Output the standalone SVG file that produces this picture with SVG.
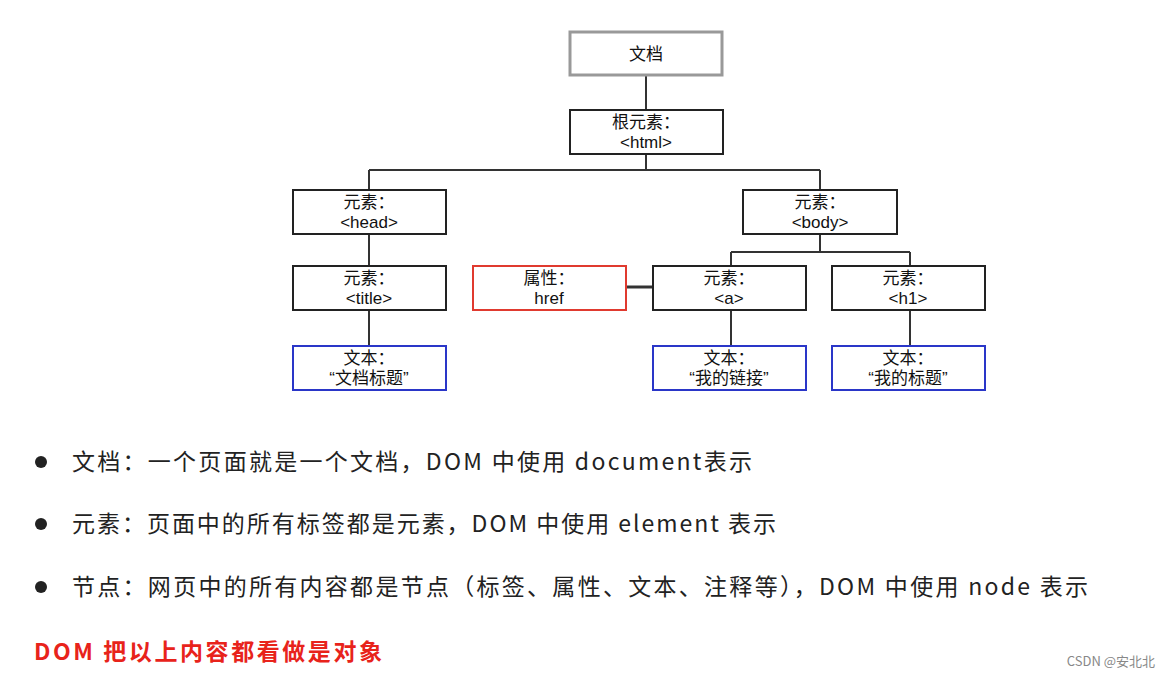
<svg xmlns="http://www.w3.org/2000/svg" width="1170" height="679" viewBox="0 0 1170 679">
<style>
.b{fill:#fff;stroke:#222;stroke-width:2}
.g{fill:#fff;stroke:#999;stroke-width:3}
.r{fill:#fff;stroke:#e03a2f;stroke-width:2}
.u{fill:#fff;stroke:#2a36c8;stroke-width:2}
.t{font-family:"Liberation Sans","Noto Sans CJK SC",sans-serif;font-size:17px;fill:#111;text-anchor:middle}
.c line{stroke:#333;stroke-width:2}
.p{font-family:"Noto Sans CJK SC","Liberation Sans",sans-serif;font-size:23px;fill:#222}
</style>
<rect width="1170" height="679" fill="#fff"/>
<g class="c">
<line x1="646" y1="75" x2="646" y2="110"/>
<line x1="646" y1="154" x2="646" y2="170"/>
<line x1="369" y1="170" x2="820" y2="170"/>
<line x1="369" y1="170" x2="369" y2="190"/>
<line x1="820" y1="170" x2="820" y2="190"/>
<line x1="369" y1="234" x2="369" y2="266"/>
<line x1="369" y1="310" x2="369" y2="346"/>
<line x1="820" y1="234" x2="820" y2="252"/>
<line x1="731" y1="252" x2="910" y2="252"/>
<line x1="731" y1="252" x2="731" y2="266"/>
<line x1="910" y1="252" x2="910" y2="266"/>
<line x1="626" y1="287" x2="653" y2="287" style="stroke-width:3"/>
<line x1="731" y1="310" x2="731" y2="346"/>
<line x1="910" y1="310" x2="910" y2="346"/>
</g>
<g id="doc"><rect class="g" x="570" y="32" width="152" height="43"/><text class="t" x="646" y="60">文档</text></g>
<g id="html"><rect class="b" x="570" y="110" width="153" height="44"/><text class="t" x="646" y="128">根元素：</text><text class="t" x="646" y="148">&lt;html&gt;</text></g>
<g id="head"><rect class="b" x="293" y="190" width="153" height="44"/><text class="t" x="369" y="208">元素：</text><text class="t" x="369" y="228">&lt;head&gt;</text></g>
<g id="body"><rect class="b" x="743" y="190" width="154" height="44"/><text class="t" x="820" y="208">元素：</text><text class="t" x="820" y="228">&lt;body&gt;</text></g>
<g id="title"><rect class="b" x="293" y="266" width="153" height="44"/><text class="t" x="369" y="284">元素：</text><text class="t" x="369" y="304">&lt;title&gt;</text></g>
<g id="href"><rect class="r" x="473" y="266" width="153" height="44"/><text class="t" x="549" y="284">属性：</text><text class="t" x="549" y="304">href</text></g>
<g id="a"><rect class="b" x="653" y="266" width="153" height="44"/><text class="t" x="729" y="284">元素：</text><text class="t" x="729" y="304">&lt;a&gt;</text></g>
<g id="h1"><rect class="b" x="832" y="266" width="153" height="44"/><text class="t" x="908" y="284">元素：</text><text class="t" x="908" y="304">&lt;h1&gt;</text></g>
<g id="t1"><rect class="u" x="293" y="346" width="153" height="44"/><text class="t" x="369" y="364">文本：</text><text class="t" x="369" y="384">“文档标题”</text></g>
<g id="t2"><rect class="u" x="653" y="346" width="153" height="44"/><text class="t" x="729" y="364">文本：</text><text class="t" x="729" y="384">“我的链接”</text></g>
<g id="t3"><rect class="u" x="832" y="346" width="153" height="44"/><text class="t" x="908" y="364">文本：</text><text class="t" x="908" y="384">“我的标题”</text></g>
<circle cx="41" cy="462" r="6" fill="#222"/>
<text class="p" x="72" y="470" textLength="680" lengthAdjust="spacing">文档：一个页面就是一个文档，DOM 中使用 document表示</text>
<circle cx="41" cy="524" r="6" fill="#222"/>
<text class="p" x="72" y="532" textLength="704" lengthAdjust="spacing">元素：页面中的所有标签都是元素，DOM 中使用 element 表示</text>
<circle cx="41" cy="587" r="6" fill="#222"/>
<text class="p" x="72" y="595" textLength="1016" lengthAdjust="spacing">节点：网页中的所有内容都是节点（标签、属性、文本、注释等），DOM 中使用 node 表示</text>
<text x="34" y="660" textLength="348" style="font-family:'Noto Sans CJK SC','Liberation Sans',sans-serif;font-size:23px;font-weight:bold;fill:#e8231b">DOM 把以上内容都看做是对象</text>
<text x="1155" y="666" text-anchor="end" style="font-family:'Noto Sans CJK SC','Liberation Sans',sans-serif;font-size:13px;fill:#888">CSDN @安北北</text>
</svg>
